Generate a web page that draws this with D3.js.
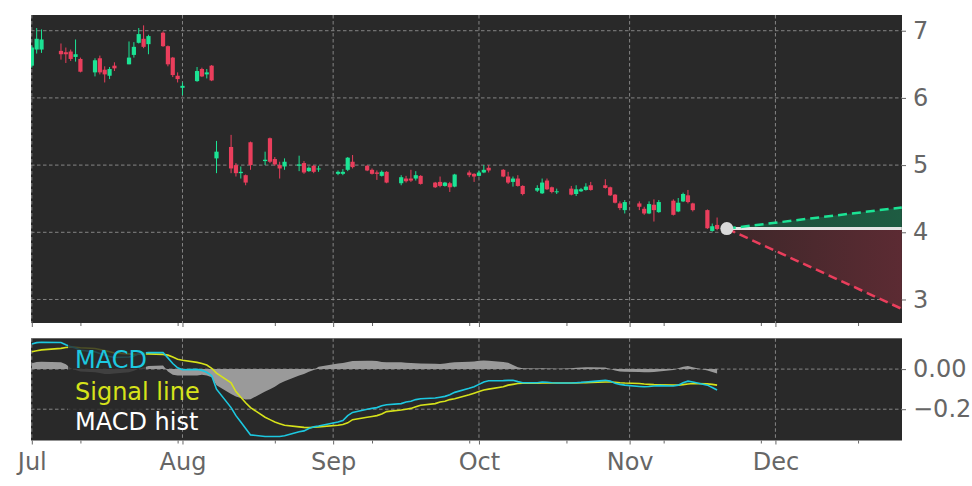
<!DOCTYPE html>
<html><head><meta charset="utf-8">
<script src="https://cdn.jsdelivr.net/npm/d3@7"></script>
<style>body{margin:0;background:#fff}svg{display:block}text{font-family:"DejaVu Sans",sans-serif}</style>
</head><body><svg id="c" width="972" height="486"></svg>
<script>
const dates = ["2025-07-01","2025-07-02","2025-07-03","2025-07-07","2025-07-08","2025-07-09","2025-07-10","2025-07-11","2025-07-14","2025-07-15","2025-07-16","2025-07-17","2025-07-18","2025-07-21","2025-07-22","2025-07-23","2025-07-24","2025-07-25","2025-07-28","2025-07-29","2025-07-30","2025-07-31",
"2025-08-01","2025-08-04","2025-08-05","2025-08-06","2025-08-07","2025-08-08","2025-08-11","2025-08-12","2025-08-13","2025-08-14","2025-08-15","2025-08-18","2025-08-19","2025-08-20","2025-08-21","2025-08-22","2025-08-25","2025-08-26","2025-08-27","2025-08-28","2025-08-29",
"2025-09-02","2025-09-03","2025-09-04","2025-09-05","2025-09-08","2025-09-09","2025-09-10","2025-09-11","2025-09-12","2025-09-15","2025-09-16","2025-09-17","2025-09-18","2025-09-19","2025-09-22","2025-09-23","2025-09-24","2025-09-25","2025-09-26","2025-09-29","2025-09-30",
"2025-10-01","2025-10-02","2025-10-03","2025-10-06","2025-10-07","2025-10-08","2025-10-09","2025-10-10","2025-10-13","2025-10-14","2025-10-15","2025-10-16","2025-10-17","2025-10-20","2025-10-21","2025-10-22","2025-10-23","2025-10-24","2025-10-27","2025-10-28","2025-10-29","2025-10-30","2025-10-31",
"2025-11-03","2025-11-04","2025-11-05","2025-11-06","2025-11-07","2025-11-10","2025-11-11","2025-11-12","2025-11-13","2025-11-14","2025-11-17","2025-11-18","2025-11-19"];
const open  = [6.48,6.72,6.72,6.70,6.68,6.69,6.61,6.58,6.38,6.59,6.42,6.33,6.48,6.50,6.64,6.82,6.88,6.80,6.97,6.77,6.60,6.33,
6.15,6.25,6.43,6.35,6.48,5.10,5.27,5.00,4.88,4.85,5.34,5.06,5.40,5.09,5.00,4.98,4.99,5.03,4.91,4.99,4.94,
4.87,4.87,4.93,5.05,4.99,4.93,4.89,4.84,4.90,4.73,4.80,4.80,4.80,4.84,4.74,4.75,4.69,4.73,4.68,4.89,4.87,
4.84,4.89,4.96,4.93,4.83,4.75,4.80,4.69,4.62,4.58,4.77,4.67,4.60,4.65,4.57,4.61,4.63,4.70,4.70,4.67,4.56,4.43,4.33,
4.43,4.35,4.28,4.41,4.30,4.47,4.31,4.46,4.55,4.43,4.33,4.02,4.11];
const high  = [6.78,7.04,7.02,6.81,6.75,6.72,6.87,6.60,6.59,6.63,6.47,6.46,6.53,6.84,6.83,7.04,7.08,6.94,6.99,6.78,6.61,6.38,
6.23,6.46,6.45,6.43,6.49,5.36,5.45,5.03,4.98,4.86,5.35,5.20,5.41,5.12,5.05,5.10,5.14,5.06,4.98,5.00,4.99,
4.92,4.94,5.12,5.15,5.00,4.95,4.92,4.92,4.91,4.85,4.84,4.93,4.91,4.85,4.75,4.83,4.75,4.75,4.87,4.92,4.88,
4.92,5.00,5.00,4.94,4.90,4.83,4.85,4.70,4.70,4.80,4.80,4.68,4.65,4.69,4.70,4.66,4.73,4.75,4.79,4.68,4.57,4.46,4.48,
4.46,4.38,4.46,4.49,4.48,4.49,4.51,4.59,4.63,4.44,4.34,4.13,4.22];
const low   = [6.45,6.66,6.67,6.57,6.52,6.55,6.54,6.38,6.32,6.35,6.23,6.28,6.40,6.50,6.60,6.81,6.74,6.65,6.76,6.47,6.31,6.23,
6.04,6.24,6.31,6.29,6.25,4.88,4.88,4.83,4.80,4.70,4.93,5.00,5.03,4.99,4.80,4.93,4.91,4.87,4.90,4.88,4.90,
4.85,4.85,4.91,4.95,4.91,4.86,4.78,4.83,4.73,4.70,4.74,4.75,4.77,4.71,4.66,4.67,4.68,4.60,4.67,4.82,4.75,
4.83,4.88,4.89,4.82,4.72,4.68,4.68,4.55,4.60,4.57,4.63,4.58,4.57,4.55,4.54,4.60,4.62,4.62,4.65,4.54,4.43,4.33,4.28,
4.33,4.26,4.27,4.16,4.29,4.25,4.30,4.45,4.43,4.31,4.05,4.01,4.03];
const close = [6.75,6.88,6.87,6.65,6.65,6.58,6.65,6.39,6.56,6.38,6.35,6.43,6.44,6.60,6.76,6.95,6.76,6.92,6.77,6.50,6.34,6.28,
6.18,6.40,6.32,6.38,6.26,5.20,4.95,4.88,4.90,4.74,5.00,5.08,5.05,5.01,4.95,5.05,5.01,4.89,4.96,4.90,4.95,
4.90,4.90,5.11,4.97,4.92,4.87,4.87,4.90,4.74,4.82,4.76,4.77,4.85,4.72,4.67,4.69,4.74,4.67,4.86,4.85,4.83,
4.89,4.93,4.92,4.83,4.74,4.80,4.69,4.57,4.66,4.74,4.64,4.60,4.61,4.56,4.64,4.64,4.68,4.63,4.66,4.55,4.44,4.36,4.45,
4.38,4.28,4.42,4.33,4.45,4.26,4.44,4.57,4.45,4.33,4.06,4.09,4.05];
const macd = [0.156,0.165,0.167,0.166,0.152,0.140,0.132,0.118,0.108,0.098,0.085,0.078,0.072,0.075,0.082,0.095,0.100,0.103,0.103,0.070,0.035,0.008,
-0.004,-0.002,-0.008,-0.020,-0.040,-0.125,-0.240,-0.290,-0.330,-0.370,-0.410,-0.420,-0.420,-0.420,-0.420,-0.415,-0.390,-0.385,-0.370,-0.360,-0.355,
-0.330,-0.320,-0.290,-0.270,-0.250,-0.245,-0.240,-0.228,-0.222,-0.215,-0.205,-0.200,-0.190,-0.185,-0.180,-0.175,-0.170,-0.160,-0.145,-0.120,-0.110,
-0.095,-0.080,-0.073,-0.072,-0.070,-0.070,-0.078,-0.085,-0.085,-0.080,-0.082,-0.085,-0.087,-0.087,-0.085,-0.083,-0.080,-0.078,-0.070,-0.075,-0.088,-0.095,-0.100,
-0.108,-0.110,-0.108,-0.105,-0.103,-0.105,-0.100,-0.085,-0.075,-0.080,-0.100,-0.115,-0.130];
const signal = [0.108,0.114,0.120,0.129,0.135,0.137,0.136,0.133,0.128,0.122,0.115,0.108,0.100,0.095,0.092,0.093,0.094,0.095,0.092,0.087,0.075,0.062,
0.055,0.042,0.035,0.025,0.005,-0.025,-0.085,-0.140,-0.175,-0.210,-0.240,-0.300,-0.315,-0.330,-0.340,-0.350,-0.360,-0.363,-0.365,-0.362,-0.360,
-0.350,-0.345,-0.335,-0.315,-0.300,-0.295,-0.290,-0.280,-0.265,-0.255,-0.250,-0.245,-0.235,-0.225,-0.215,-0.205,-0.200,-0.190,-0.185,-0.160,-0.150,
-0.140,-0.130,-0.125,-0.110,-0.100,-0.095,-0.090,-0.088,-0.088,-0.087,-0.087,-0.087,-0.087,-0.087,-0.086,-0.085,-0.084,-0.083,-0.080,-0.080,-0.082,-0.085,-0.087,
-0.090,-0.093,-0.095,-0.097,-0.098,-0.100,-0.100,-0.097,-0.093,-0.090,-0.092,-0.095,-0.100];
const hist = [0.036,0.045,0.046,0.042,0.030,0.005,-0.005,-0.015,-0.020,-0.024,-0.030,-0.030,-0.028,-0.020,-0.010,0.002,0.010,0.020,0.022,-0.015,-0.035,-0.040,
-0.040,-0.040,-0.035,-0.040,-0.050,-0.100,-0.155,-0.170,-0.180,-0.190,-0.188,-0.140,-0.125,-0.110,-0.090,-0.075,-0.040,-0.030,-0.017,-0.005,0.015,
0.035,0.038,0.045,0.050,0.052,0.052,0.050,0.045,0.042,0.042,0.040,0.038,0.037,0.035,0.034,0.032,0.035,0.040,0.042,0.046,0.048,
0.052,0.053,0.052,0.045,0.040,0.025,0.012,0.005,0.004,0.006,0.004,0.003,0.002,0.005,0.008,0.010,0.012,0.012,0.010,0.000,-0.008,-0.015,-0.017,
-0.018,-0.020,-0.020,-0.018,-0.015,-0.006,0.005,0.015,0.020,0.012,-0.008,-0.018,-0.027];
const priceTicks = [3,4,5,6,7];
const macdTicks = [0,-0.25];
const macdTickLabels = ["0.00","\u22120.25"];
const monthTicks = ["2025-07-01","2025-08-01","2025-09-01","2025-10-01","2025-11-01","2025-12-01"];
const monthLabels = ["Jul","Aug","Sep","Oct","Nov","Dec"];
const minorTicks = ["2025-07-11","2025-07-31","2025-08-20","2025-09-09","2025-09-29","2025-10-19","2025-11-08","2025-11-28","2025-12-18"];
const forecastDates = ["2025-11-21","2025-12-27"];
const forecastUpper = [4.055,4.37];
const forecastLower = [4.055,2.86];
const lastPrice = 4.055;
const legendLabels = ["MACD","Signal line","MACD hist"];

const parse = d3.timeParse("%Y-%m-%d");
const svg = d3.select("#c");
const X0=31, X1=902, MT=15, MB=323, ST=338.3, SB=440.5;
const BG="#292929", GREEN="#1be394", RED="#ea3e5c", CYAN="#1cc8e0", YEL="#d6e21a", AX="#666666";
const x = d3.scaleTime().domain([new Date(2025,5,30,20), new Date(2025,11,27,1)]).range([X0,X1]);
const y = d3.scaleLinear().domain([2.65,7.234]).range([MB,MT]);
const ym = d3.scaleLinear().domain([-0.445,0.192]).range([SB,ST]);
const D = dates.map(parse);
const M = monthTicks.map(parse);

const defs = svg.append("defs");
defs.append("clipPath").attr("id","cm").append("rect").attr("x",X0).attr("y",MT).attr("width",X1-X0).attr("height",MB-MT);
defs.append("clipPath").attr("id","cs").append("rect").attr("x",X0).attr("y",ST).attr("width",X1-X0).attr("height",SB-ST);
const gg = defs.append("linearGradient").attr("id","gg").attr("x1","0").attr("x2","1").attr("y1","0").attr("y2","0");
gg.append("stop").attr("offset","0").attr("stop-color","#1f4a39");
gg.append("stop").attr("offset","1").attr("stop-color","#1e5c42");
const rg = defs.append("linearGradient").attr("id","rg").attr("x1","0").attr("x2","1").attr("y1","0").attr("y2","0");
rg.append("stop").attr("offset","0").attr("stop-color","#3d2729");
rg.append("stop").attr("offset","1").attr("stop-color","#5c2b33");

// panels
svg.append("rect").attr("x",X0).attr("y",MT).attr("width",X1-X0).attr("height",MB-MT).attr("fill",BG);
svg.append("rect").attr("x",X0).attr("y",ST).attr("width",X1-X0).attr("height",SB-ST).attr("fill",BG);

// grids
const grid = svg.append("g").attr("stroke","#8f8f8f").attr("stroke-width",0.9).attr("stroke-dasharray","3.5,2.5");
priceTicks.forEach(v=>grid.append("line").attr("x1",X0).attr("x2",X1).attr("y1",y(v)).attr("y2",y(v)));
macdTicks.forEach(v=>grid.append("line").attr("x1",X0).attr("x2",X1).attr("y1",ym(v)).attr("y2",ym(v)));
M.forEach(d=>{
  grid.append("line").attr("x1",x(d)).attr("x2",x(d)).attr("y1",MT).attr("y2",MB);
  grid.append("line").attr("x1",x(d)).attr("x2",x(d)).attr("y1",ST).attr("y2",SB);
});

// forecast
const main = svg.append("g").attr("clip-path","url(#cm)");
const F = forecastDates.map(parse);
main.append("path").attr("fill","url(#gg)")
  .attr("d", d3.line()([[x(F[0]),y(lastPrice)],[x(F[1]),y(forecastUpper[1])],[x(F[1]),y(lastPrice)]])+"Z");
main.append("path").attr("fill","url(#rg)")
  .attr("d", d3.line()([[x(F[0]),y(lastPrice)],[x(F[1]),y(lastPrice)],[x(F[1]),y(forecastLower[1])]])+"Z");
main.append("line").attr("x1",x(F[0])).attr("x2",x(F[1])).attr("y1",y(lastPrice)).attr("y2",y(lastPrice))
  .attr("stroke","#e4e4e4").attr("stroke-width",3);
const fl = d3.line().x((v,i)=>x(F[i])).y(v=>y(v));
main.append("path").attr("d",fl(forecastUpper)).attr("fill","none").attr("stroke",GREEN).attr("stroke-width",2.5).attr("stroke-dasharray","9,5");
main.append("path").attr("d",fl(forecastLower)).attr("fill","none").attr("stroke",RED).attr("stroke-width",2.5).attr("stroke-dasharray","9,5");

// candles
const cg = main.append("g");
D.forEach((d,i)=>{
  const col = close[i]>=open[i]?GREEN:RED;
  const cx = x(d);
  cg.append("line").attr("x1",cx).attr("x2",cx).attr("y1",y(high[i])).attr("y2",y(low[i])).attr("stroke",col).attr("stroke-width",1);
  const t = y(Math.max(open[i],close[i])), b = y(Math.min(open[i],close[i]));
  cg.append("rect").attr("x",cx-2.1).attr("width",4.2).attr("y",t).attr("height",Math.max(1,b-t)).attr("fill",col);
});
main.append("circle").attr("cx",x(F[0])).attr("cy",y(lastPrice)).attr("r",6.5).attr("fill","#d9d9d9");

// macd panel
const sub = svg.append("g").attr("clip-path","url(#cs)");
sub.append("path").datum(hist).attr("fill","#9a9a9a")
  .attr("d", d3.area().x((v,i)=>x(D[i])).y0(ym(0)).y1(v=>ym(v)));
sub.append("path").datum(signal).attr("fill","none").attr("stroke",YEL).attr("stroke-width",1.6)
  .attr("d", d3.line().x((v,i)=>x(D[i])).y(v=>ym(v)));
sub.append("path").datum(macd).attr("fill","none").attr("stroke",CYAN).attr("stroke-width",1.6)
  .attr("d", d3.line().x((v,i)=>x(D[i])).y(v=>ym(v)));
// legend
sub.append("rect").attr("x",68).attr("y",ST+1).attr("width",78).attr("height",SB-ST-2).attr("fill",BG).attr("opacity",0.8);
const lg = svg.append("g").attr("font-size",24);
[[CYAN,368],[YEL,400],["#ffffff",430]].forEach((c,i)=>{
  lg.append("text").attr("x",75).attr("y",c[1]).attr("fill",c[0]).text(legendLabels[i]);
});

// axes
function styleAx(g){
  g.select(".domain").remove();
  g.selectAll(".tick line").attr("stroke",AX);
  g.selectAll(".tick text").attr("fill",AX).attr("font-size",24).attr("font-family","DejaVu Sans");
}
svg.append("g").attr("transform",`translate(${X1},0)`)
  .call(d3.axisRight(y).tickValues(priceTicks).tickFormat(d3.format("d")).tickSize(4).tickPadding(7)).call(styleAx);
svg.append("g").attr("transform",`translate(${X1},0)`)
  .call(d3.axisRight(ym).tickValues(macdTicks).tickFormat((d,i)=>macdTickLabels[i]).tickSize(4).tickPadding(7)).call(styleAx);
svg.append("g").attr("transform",`translate(0,${SB})`)
  .call(d3.axisBottom(x).tickValues(M).tickFormat((d,i)=>monthLabels[i]).tickSize(4).tickPadding(8)).call(styleAx);
svg.append("g").attr("transform",`translate(0,${MB})`)
  .call(d3.axisBottom(x).tickValues(M).tickFormat("").tickSize(4)).call(styleAx);
svg.append("g").attr("transform",`translate(0,${SB})`)
  .call(d3.axisBottom(x).tickValues(minorTicks.map(parse)).tickFormat("").tickSize(3)).call(styleAx);
svg.append("g").attr("transform",`translate(0,${MB})`)
  .call(d3.axisBottom(x).tickValues(minorTicks.map(parse)).tickFormat("").tickSize(3)).call(styleAx);
</script></body></html>
